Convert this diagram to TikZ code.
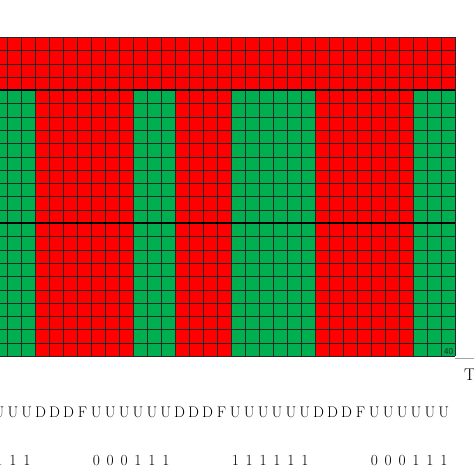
\documentclass[tikz,border=0pt]{standalone}
\usepackage{tikz}
\usetikzlibrary{positioning}
\definecolor{dlred}{RGB}{255,0,0}
\definecolor{ulgreen}{RGB}{0,176,80}

\begin{document}
\begin{tikzpicture}[x=1bp, y=-1bp,
    gridline/.style={draw=black!85, line width=1bp},
    slotline/.style={draw=black, line width=2bp},
    symlbl/.style={font=\fontsize{15.5}{18}\selectfont, inner sep=0pt, anchor=base},
    bitlbl/.style={font=\fontsize{15.5}{18}\selectfont, inner sep=0pt, anchor=base},
    prblbl/.style={font=\sffamily\fontsize{9}{10}\selectfont, text=black!85, inner sep=1.5pt, anchor=south east}]
  \useasboundingbox (0,0) rectangle (474,474);
  \clip (0,0) rectangle (474,474);
  % resource grid: symbols 1-4 downlink, then per-PRB column pattern
  \coordinate (gridNW) at (-7,37);
  \coordinate (gridSE) at (455,356);
  \fill[dlred] (gridNW) rectangle (455,90);
  \foreach \a/\b/\c in {8/10/ulgreen, 11/17/dlred, 18/20/ulgreen, 21/24/dlred,
                        25/30/ulgreen, 31/37/dlred, 38/40/ulgreen}
    \fill[\c] ({14*\a-119},90) rectangle ({14*\b-105},356);
  \foreach \k in {8,...,41}
    \draw[gridline] ({14*\k-119+0.5},37) -- ({14*\k-119+0.5},356);
  \foreach \r in {0,...,24}{
    \pgfmathsetmacro{\yy}{round(37+13.29*\r)+0.5}
    \draw[gridline] (-7,\yy) -- (455,\yy);
  }
  \draw[slotline] (-7,90) -- (455,90);
  \draw[slotline] (-7,223) -- (455,223);
  \node[prblbl] (prb40) at (gridSE) {40};
  % time axis
  \coordinate (axisL) at (455,358.5);
  \draw[gray!70, line width=0.8pt] (axisL) -- ++(25,0);
  \node[font=\fontsize{17}{20}\selectfont, inner sep=0pt, anchor=base west] (tlbl) at (464,380) {T};
  % slot format and bits
  \foreach \s [count=\i from 0] in {U,U,U,D,D,D,F,U,U,U,U,U,U,D,D,D,F,
                                    U,U,U,U,U,U,D,D,D,F,U,U,U,U,U,U}
    \node[symlbl] (sym\i) at ({-1+13.9*\i},417) {\s};
  \foreach \j/\d in {0/1,1/1,2/1,7/0,8/0,9/0,10/1,11/1,12/1,
                     17/1,18/1,19/1,20/1,21/1,22/1,27/0,28/0,29/0,30/1,31/1,32/1}
    \path (sym\j.base) ++(0,48) node[bitlbl] (bit\j) {\d};
\end{tikzpicture}
\end{document}
